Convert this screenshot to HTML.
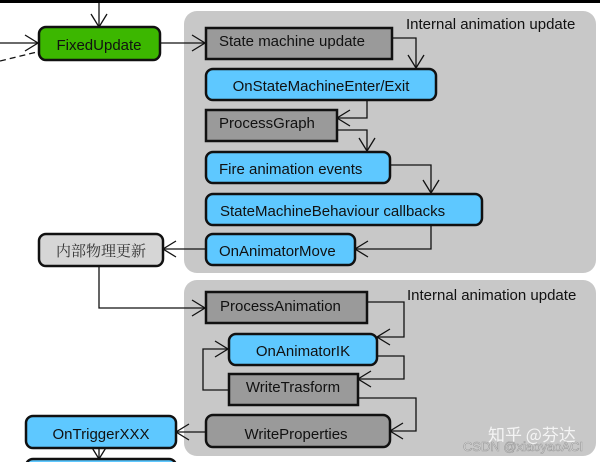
<!DOCTYPE html>
<html><head><meta charset="utf-8"><style>
html,body{margin:0;padding:0;background:#fff;}
svg{display:block;}
text{font-family:"Liberation Sans",sans-serif;font-size:15px;fill:#111;}
</style></head><body>
<svg width="600" height="462" viewBox="0 0 600 462" xmlns="http://www.w3.org/2000/svg">
<defs>
<marker id="a" markerWidth="18" markerHeight="18" refX="14" refY="9" orient="auto" markerUnits="userSpaceOnUse">
<path d="M1,1 L14,9 L1,17" fill="none" stroke="#111" stroke-width="1.3"/>
</marker>
</defs>
<line x1="0" y1="1.5" x2="600" y2="1.5" stroke="#000" stroke-width="3"/>
<rect x="184" y="11" width="412" height="262" rx="13" fill="#c8c8c8"/>
<rect x="184" y="280" width="412" height="176" rx="13" fill="#c8c8c8"/>
<g fill="none" stroke="#111" stroke-width="1.3">
<line x1="99" y1="3" x2="99" y2="27" marker-end="url(#a)"/>
<line x1="0" y1="43" x2="38" y2="43" marker-end="url(#a)"/>
<line x1="0" y1="61" x2="37" y2="52" stroke-dasharray="6,4"/>
<line x1="160" y1="43" x2="205" y2="43" marker-end="url(#a)"/>
<polyline points="392,38 416,38 416,68" marker-end="url(#a)"/>
<polyline points="367,100 367,118 337,118" marker-end="url(#a)"/>
<polyline points="337,130 367,130 367,151" marker-end="url(#a)"/>
<polyline points="390,165 431,165 431,193" marker-end="url(#a)"/>
<polyline points="431,225 431,249 355,249" marker-end="url(#a)"/>
<line x1="205" y1="249" x2="163" y2="249" marker-end="url(#a)"/>
<polyline points="99,266 99,308 205,308" marker-end="url(#a)"/>
<polyline points="367,302 404,302 404,337 377,337" marker-end="url(#a)"/>
<polyline points="377,356 404,356 404,379 358,379" marker-end="url(#a)"/>
<polyline points="228,390 203,390 203,349 228,349" marker-end="url(#a)"/>
<polyline points="358,398 416,398 416,431 390,431" marker-end="url(#a)"/>
<line x1="205" y1="432" x2="176" y2="432" marker-end="url(#a)"/>
<line x1="99" y1="448" x2="99" y2="459" marker-end="url(#a)"/>
</g>
<g stroke="#111" stroke-width="2.5">
<rect x="39" y="27" width="121" height="33" rx="7" fill="#3cb700"/>
<rect x="39" y="234" width="124" height="32" rx="7" fill="#d6d6d6"/>
<rect x="206" y="28" width="186" height="31" fill="#9a9a9a"/>
<rect x="206" y="69" width="230" height="31" rx="7" fill="#5ec8ff"/>
<rect x="206" y="110" width="131" height="31" fill="#9a9a9a"/>
<rect x="206" y="152" width="184" height="31" rx="7" fill="#5ec8ff"/>
<rect x="206" y="194" width="276" height="31" rx="7" fill="#5ec8ff"/>
<rect x="206" y="234" width="149" height="31" rx="7" fill="#5ec8ff"/>
<rect x="206" y="292" width="161" height="31" fill="#9a9a9a"/>
<rect x="229" y="334" width="148" height="31" rx="7" fill="#5ec8ff"/>
<rect x="229" y="374" width="129" height="31" fill="#9a9a9a"/>
<rect x="206" y="415" width="184" height="32" rx="7" fill="#9a9a9a"/>
<rect x="26" y="416" width="150" height="32" rx="7" fill="#5ec8ff"/>
<rect x="26" y="459" width="150" height="20" rx="7" fill="#5ec8ff"/>
</g>
<text x="99" y="50" text-anchor="middle">FixedUpdate</text>
<text x="101" y="256" text-anchor="middle" style="font-family:'Noto Serif CJK SC',serif;font-size:15px;fill:#333">内部物理更新</text>
<text x="219" y="46">State machine update</text>
<text x="321" y="91" text-anchor="middle">OnStateMachineEnter/Exit</text>
<text x="219" y="128">ProcessGraph</text>
<text x="219" y="174">Fire animation events</text>
<text x="220" y="216">StateMachineBehaviour callbacks</text>
<text x="219" y="256">OnAnimatorMove</text>
<text x="406" y="29" style="font-size:15px">Internal animation update</text>
<text x="220" y="311">ProcessAnimation</text>
<text x="303" y="356" text-anchor="middle">OnAnimatorIK</text>
<text x="293" y="392" text-anchor="middle">WriteTrasform</text>
<text x="296" y="439" text-anchor="middle">WriteProperties</text>
<text x="101" y="439" text-anchor="middle">OnTriggerXXX</text>
<text x="407" y="300" style="font-size:15px">Internal animation update</text>
<text x="488" y="441" style="font-family:'Noto Sans CJK SC',sans-serif;font-size:17px;fill:#f4f4f4">知乎 @芬达</text>
<text x="463" y="451" style="font-size:13px;fill:#e8e8e8;stroke:#999;stroke-width:0.6">CSDN @xiaoyaoACI</text>
</svg>
</body></html>
